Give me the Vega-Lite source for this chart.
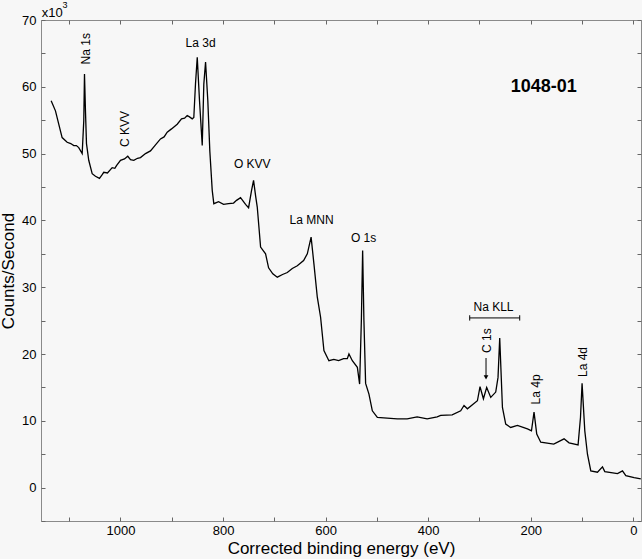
{
  "$schema": "https://vega.github.io/schema/vega-lite/v6.json",
  "width": 600,
  "height": 501,
  "autosize": "none",
  "padding": {"left": 41, "top": 20, "right": 1, "bottom": 38},
  "background": "#f7f7f7",
  "config": {
    "font": "Liberation Sans",
    "view": {"stroke": "#8a8a8a", "strokeWidth": 1},
    "axis": {"grid": false, "domain": false, "tickColor": "#666666", "tickWidth": 1, "labelColor": "#000000", "labelFontSize": 13, "titleFontSize": 17, "titleFontWeight": "normal", "titleColor": "#000000"},
    "text": {"font": "Liberation Sans", "color": "#000000"}
  },
  "datasets": {
    "spectrum": [
      {"eV": 1135.2, "cps": 57.9}, {"eV": 1126.8, "cps": 56.4}, {"eV": 1120.4, "cps": 54.4}, {"eV": 1113.8, "cps": 52.4},
      {"eV": 1104.0, "cps": 51.7}, {"eV": 1097.0, "cps": 51.5}, {"eV": 1091.1, "cps": 51.2}, {"eV": 1086.0, "cps": 51.2},
      {"eV": 1081.4, "cps": 50.9}, {"eV": 1074.7, "cps": 50.0}, {"eV": 1071.6, "cps": 54.9}, {"eV": 1070.2, "cps": 61.9},
      {"eV": 1068.3, "cps": 56.4}, {"eV": 1066.3, "cps": 51.5}, {"eV": 1061.9, "cps": 49.0}, {"eV": 1055.2, "cps": 47.0},
      {"eV": 1048.8, "cps": 46.6}, {"eV": 1041.0, "cps": 46.3}, {"eV": 1036.0, "cps": 46.8}, {"eV": 1032.6, "cps": 47.2},
      {"eV": 1025.4, "cps": 47.1}, {"eV": 1016.2, "cps": 47.9}, {"eV": 1011.0, "cps": 47.8}, {"eV": 1007.8, "cps": 48.2},
      {"eV": 1000.0, "cps": 49.0}, {"eV": 992.2, "cps": 49.2}, {"eV": 985.8, "cps": 49.6}, {"eV": 980.5, "cps": 49.1},
      {"eV": 974.0, "cps": 49.0}, {"eV": 966.8, "cps": 49.3}, {"eV": 961.0, "cps": 49.4}, {"eV": 951.2, "cps": 50.0},
      {"eV": 941.5, "cps": 50.4}, {"eV": 931.7, "cps": 51.3}, {"eV": 922.0, "cps": 52.2}, {"eV": 915.0, "cps": 52.5},
      {"eV": 908.9, "cps": 53.2}, {"eV": 900.5, "cps": 53.7}, {"eV": 889.4, "cps": 54.4}, {"eV": 881.0, "cps": 55.2},
      {"eV": 875.0, "cps": 55.3}, {"eV": 869.9, "cps": 55.7}, {"eV": 865.4, "cps": 55.5}, {"eV": 860.1, "cps": 55.2},
      {"eV": 857.0, "cps": 55.4}, {"eV": 853.7, "cps": 60.5}, {"eV": 850.3, "cps": 64.4}, {"eV": 845.9, "cps": 57.9},
      {"eV": 840.6, "cps": 51.2}, {"eV": 837.5, "cps": 60.4}, {"eV": 834.1, "cps": 63.7}, {"eV": 829.7, "cps": 57.9},
      {"eV": 825.8, "cps": 50.4}, {"eV": 821.1, "cps": 44.5}, {"eV": 818.0, "cps": 42.5}, {"eV": 808.8, "cps": 42.8},
      {"eV": 799.0, "cps": 42.4}, {"eV": 789.3, "cps": 42.5}, {"eV": 779.5, "cps": 42.6}, {"eV": 773.7, "cps": 43.0},
      {"eV": 765.9, "cps": 43.4}, {"eV": 756.1, "cps": 42.4}, {"eV": 750.2, "cps": 41.9}, {"eV": 744.4, "cps": 44.5},
      {"eV": 740.5, "cps": 46.0}, {"eV": 736.6, "cps": 43.7}, {"eV": 733.3, "cps": 42.0}, {"eV": 726.8, "cps": 36.0},
      {"eV": 717.1, "cps": 35.0}, {"eV": 711.2, "cps": 32.9}, {"eV": 703.0, "cps": 32.0}, {"eV": 694.2, "cps": 31.5},
      {"eV": 684.0, "cps": 31.9}, {"eV": 674.7, "cps": 32.2}, {"eV": 665.0, "cps": 32.8}, {"eV": 655.2, "cps": 33.2},
      {"eV": 642.9, "cps": 34.0}, {"eV": 635.7, "cps": 35.0}, {"eV": 628.3, "cps": 37.5}, {"eV": 622.8, "cps": 33.5},
      {"eV": 616.2, "cps": 28.5}, {"eV": 609.8, "cps": 25.5}, {"eV": 603.3, "cps": 20.5}, {"eV": 593.6, "cps": 19.0},
      {"eV": 584.0, "cps": 19.2}, {"eV": 574.6, "cps": 19.0}, {"eV": 565.0, "cps": 19.3}, {"eV": 557.7, "cps": 19.3},
      {"eV": 554.5, "cps": 20.0}, {"eV": 547.9, "cps": 19.0}, {"eV": 538.1, "cps": 18.0}, {"eV": 533.7, "cps": 15.5},
      {"eV": 530.3, "cps": 25.0}, {"eV": 527.8, "cps": 35.5}, {"eV": 525.3, "cps": 25.0}, {"eV": 522.0, "cps": 15.6},
      {"eV": 515.5, "cps": 14.0}, {"eV": 508.9, "cps": 11.5}, {"eV": 499.1, "cps": 10.5}, {"eV": 480.0, "cps": 10.4},
      {"eV": 460.1, "cps": 10.3}, {"eV": 441.0, "cps": 10.3}, {"eV": 421.5, "cps": 10.6}, {"eV": 402.0, "cps": 10.3},
      {"eV": 382.4, "cps": 10.6}, {"eV": 375.6, "cps": 10.8}, {"eV": 353.2, "cps": 10.9}, {"eV": 336.6, "cps": 11.5},
      {"eV": 330.1, "cps": 12.3}, {"eV": 323.5, "cps": 11.8}, {"eV": 304.0, "cps": 13.0}, {"eV": 298.9, "cps": 15.1},
      {"eV": 292.3, "cps": 13.3}, {"eV": 285.9, "cps": 15.0}, {"eV": 278.0, "cps": 13.5}, {"eV": 268.3, "cps": 14.3},
      {"eV": 263.8, "cps": 16.5}, {"eV": 260.5, "cps": 22.4}, {"eV": 255.2, "cps": 12.0}, {"eV": 248.8, "cps": 9.5},
      {"eV": 239.0, "cps": 9.0}, {"eV": 226.0, "cps": 9.3}, {"eV": 206.4, "cps": 8.8}, {"eV": 198.6, "cps": 8.5},
      {"eV": 193.6, "cps": 11.3}, {"eV": 188.3, "cps": 8.0}, {"eV": 180.5, "cps": 6.8}, {"eV": 155.1, "cps": 6.5},
      {"eV": 135.0, "cps": 7.3}, {"eV": 125.3, "cps": 6.7}, {"eV": 107.7, "cps": 6.4}, {"eV": 103.0, "cps": 10.5},
      {"eV": 99.9, "cps": 15.6}, {"eV": 94.6, "cps": 8.5}, {"eV": 89.4, "cps": 5.0}, {"eV": 82.9, "cps": 2.5},
      {"eV": 69.9, "cps": 2.3}, {"eV": 60.1, "cps": 3.1}, {"eV": 55.6, "cps": 2.4}, {"eV": 30.8, "cps": 2.1},
      {"eV": 21.1, "cps": 2.5}, {"eV": 14.6, "cps": 1.8}, {"eV": -1.6, "cps": 1.5}, {"eV": -14.6, "cps": 1.3}
    ]
  },
  "layer": [
    {
      "data": {"name": "spectrum"},
      "mark": {"type": "line", "color": "#000000", "strokeWidth": 1.3},
      "encoding": {
        "x": {"field": "eV", "type": "quantitative", "scale": {"domain": [-15, 1155], "reverse": true, "nice": false, "zero": false},
              "axis": {"orient": "bottom", "title": "Corrected binding energy (eV)", "values": [0, 100, 200, 300, 400, 500, 600, 700, 800, 900, 1000, 1100], "format": "d", "labelExpr": "datum.value % 200 === 0 ? datum.label : ''", "tickSize": -4, "labelPadding": 7, "titlePadding": 3}},
        "y": {"field": "cps", "type": "quantitative", "scale": {"domain": [-5, 70], "nice": false, "zero": false},
              "axis": {"orient": "left", "title": "Counts/Second", "values": [-5, 0, 5, 10, 15, 20, 25, 30, 35, 40, 45, 50, 55, 60, 65, 70], "format": "d", "labelExpr": "datum.value % 10 === 0 ? datum.label : ''", "tickSize": -4, "labelPadding": 9, "titlePadding": 4}}
      }
    },
    {
      "data": {"name": "spectrum"},
      "mark": {"type": "point", "opacity": 0},
      "encoding": {
        "x": {"field": "eV", "type": "quantitative", "scale": {"domain": [-15, 1155], "reverse": true, "nice": false, "zero": false},
              "axis": {"orient": "top", "title": null, "labels": false, "values": [0, 100, 200, 300, 400, 500, 600, 700, 800, 900, 1000, 1100], "tickSize": -4}},
        "y": {"field": "cps", "type": "quantitative", "scale": {"domain": [-5, 70], "nice": false, "zero": false},
              "axis": {"orient": "right", "title": null, "labels": false, "values": [-5, 0, 5, 10, 15, 20, 25, 30, 35, 40, 45, 50, 55, 60, 65, 70], "tickSize": -4}}
      }
    },
    {
      "data": {"values": [
        {"eV": 843.9, "val": 66.6, "text": "La 3d"},
        {"eV": 743.0, "val": 48.4, "text": "O KVV"},
        {"eV": 627.3, "val": 40.1, "text": "La MNN"},
        {"eV": 525.9, "val": 37.4, "text": "O 1s"},
        {"eV": 272.6, "val": 27.0, "text": "Na KLL"}
      ]},
      "mark": {"type": "text", "fontSize": 12, "align": "center", "baseline": "middle"},
      "encoding": {
        "x": {"field": "eV", "type": "quantitative", "axis": null},
        "y": {"field": "val", "type": "quantitative", "axis": null},
        "text": {"field": "text"}
      }
    },
    {
      "data": {"values": [
        {"eV": 1066.3, "val": 65.7, "text": "Na 1s"},
        {"eV": 990.8, "val": 53.7, "text": "C KVV"},
        {"eV": 284.5, "val": 22.0, "text": "C 1s"},
        {"eV": 190.2, "val": 14.7, "text": "La 4p"},
        {"eV": 98.0, "val": 18.8, "text": "La 4d"}
      ]},
      "mark": {"type": "text", "fontSize": 12, "align": "center", "baseline": "middle", "angle": 270},
      "encoding": {
        "x": {"field": "eV", "type": "quantitative", "axis": null},
        "y": {"field": "val", "type": "quantitative", "axis": null},
        "text": {"field": "text"}
      }
    },
    {
      "data": {"values": [{"eV": 174.6, "val": 59.9, "text": "1048-01"}]},
      "mark": {"type": "text", "fontSize": 18, "fontWeight": "bold", "align": "center", "baseline": "middle"},
      "encoding": {
        "x": {"field": "eV", "type": "quantitative", "axis": null},
        "y": {"field": "val", "type": "quantitative", "axis": null},
        "text": {"field": "text"}
      }
    },
    {
      "data": {"values": [{"eV": 1133.0, "val": 71.1, "text": "x10"}]},
      "mark": {"type": "text", "fontSize": 13, "align": "center", "baseline": "middle"},
      "encoding": {
        "x": {"field": "eV", "type": "quantitative", "axis": null},
        "y": {"field": "val", "type": "quantitative", "axis": null},
        "text": {"field": "text"}
      }
    },
    {
      "data": {"values": [{"eV": 1108.3, "val": 72.2, "text": "3"}]},
      "mark": {"type": "text", "fontSize": 9, "align": "center", "baseline": "middle"},
      "encoding": {
        "x": {"field": "eV", "type": "quantitative", "axis": null},
        "y": {"field": "val", "type": "quantitative", "axis": null},
        "text": {"field": "text"}
      }
    },
    {
      "data": {"values": [{"x1": 319.0, "x2": 221.5, "y": 25.4}]},
      "mark": {"type": "rule", "color": "#000000", "strokeWidth": 1},
      "encoding": {
        "x": {"field": "x1", "type": "quantitative", "axis": null},
        "x2": {"field": "x2"},
        "y": {"field": "y", "type": "quantitative", "axis": null}
      }
    },
    {
      "data": {"values": [{"x": 319.0, "y1": 25.0, "y2": 25.8}, {"x": 221.5, "y1": 25.0, "y2": 25.8}, {"x": 287.2, "y1": 16.6, "y2": 19.4}]},
      "mark": {"type": "rule", "color": "#000000", "strokeWidth": 1},
      "encoding": {
        "x": {"field": "x", "type": "quantitative", "axis": null},
        "y": {"field": "y1", "type": "quantitative", "axis": null},
        "y2": {"field": "y2"}
      }
    },
    {
      "data": {"values": [{"x": 287.2, "y": 16.5}]},
      "mark": {"type": "point", "shape": "triangle-down", "filled": true, "color": "#000000", "size": 22, "opacity": 1},
      "encoding": {
        "x": {"field": "x", "type": "quantitative", "axis": null},
        "y": {"field": "y", "type": "quantitative", "axis": null}
      }
    }
  ],
  "resolve": {"axis": {"x": "independent", "y": "independent"}}
}
